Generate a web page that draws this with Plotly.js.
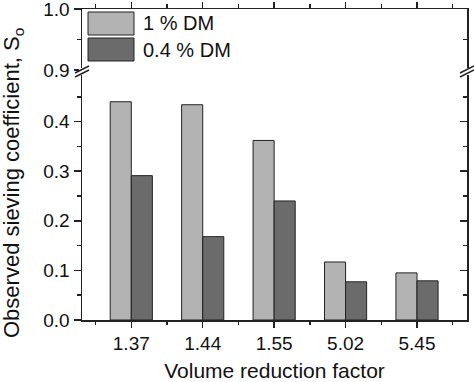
<!DOCTYPE html>
<html>
<head>
<meta charset="utf-8">
<script src="https://cdn.plot.ly/plotly-3.0.1.min.js"></script>
<style>html,body{margin:0;padding:0;background:#fff;}#chart{width:474px;height:382px;}</style>
</head>
<body>
<div id="chart"></div>
<script>
// ---- data ----
const categories = ['1.37', '1.44', '1.55', '5.02', '5.45'];
const dm1 = [0.440, 0.434, 0.362, 0.117, 0.095];
const dm04 = [0.291, 0.168, 0.240, 0.077, 0.079];
const seriesNames = ['1 % DM', '0.4 % DM'];
const seriesColors = ['#b3b3b3', '#6b6b6b'];
const lowerTicks = [0, 0.1, 0.2, 0.3, 0.4];
const lowerMinor = [0.05, 0.15, 0.25, 0.35, 0.45];
const upperTicks = [0.9, 1.0];
const upperMinor = [0.95];
const xTitle = 'Volume reduction factor';
const yTitle = 'Observed sieving coefficient, S<sub>o</sub>';

// ---- geometry ----
const W = 474, H = 382;
const M = {l: 82, r: 7, t: 9, b: 62};
const PW = W - M.l - M.r, PH = H - M.t - M.b;
const px = x => (x - M.l) / PW;          // pixel -> paper x
const py = y => (H - M.b - y) / PH;      // pixel -> paper y
const lowerDomain = [0, py(72)];
const upperDomain = [py(70), 1];
const upperRange = [0.9, 1.0];
const xRange = [-0.69, 4.7];
const idx = categories.map((_, i) => i);
const halfIdx = idx.map(i => i - 0.5).concat([idx.length - 0.5]);

const FONT = 'Liberation Sans, Arial, sans-serif';
const LC = '#222';

const traces = [dm1, dm04].map((vals, k) => ({
  type: 'bar', x: idx, y: vals, name: seriesNames[k],
  marker: {color: seriesColors[k], line: {color: LC, width: 1}},
  xaxis: 'x', yaxis: 'y', showlegend: false, hoverinfo: 'skip'
}));
// empty helper traces so that the upper / mirrored axes get drawn
[['x2', 'y2'], ['x', 'y3'], ['x', 'y4'], ['x', 'y2']].forEach(([xa, ya]) => traces.push({
  type: 'scatter', mode: 'markers', x: [null], y: [null], xaxis: xa, yaxis: ya,
  showlegend: false, hoverinfo: 'skip', marker: {opacity: 0}
}));

const axBase = {showgrid: false, zeroline: false, showline: true, linecolor: LC, linewidth: 1.5,
  tickcolor: LC, tickwidth: 1.5, ticklabeloverflow: 'allow',
  tickfont: {family: FONT, size: 19, color: '#111'}};

const layout = {
  width: W, height: H, margin: M, paper_bgcolor: '#fff', plot_bgcolor: 'rgba(0,0,0,0)',
  barmode: 'group', bargap: 0.41, bargroupgap: 0,
  font: {family: FONT, color: '#111'},
  xaxis: Object.assign({}, axBase, {
    range: xRange, anchor: 'y', tickmode: 'array', tickvals: idx, ticktext: categories,
    ticks: 'outside', ticklen: 6,
    minor: {tickmode: 'array', tickvals: halfIdx, ticks: 'outside', ticklen: 3, tickcolor: LC, tickwidth: 1.5},
    title: {text: xTitle, font: {family: FONT, size: 21, color: '#111'}, standoff: 10}
  }),
  xaxis2: Object.assign({}, axBase, {
    range: xRange, overlaying: 'x', anchor: 'y2', side: 'top', tickmode: 'array', tickvals: idx,
    ticks: 'outside', ticklen: 6, showticklabels: false,
    minor: {tickmode: 'array', tickvals: halfIdx, ticks: 'outside', ticklen: 4, tickcolor: LC, tickwidth: 1.5}
  }),
  yaxis: Object.assign({}, axBase, {
    domain: lowerDomain, range: [0, 0.5], anchor: 'x', tickmode: 'array', tickvals: lowerTicks,
    ticktext: lowerTicks.map(v => v.toFixed(1)), ticks: 'outside', ticklen: 7,
    minor: {tickmode: 'array', tickvals: lowerMinor, ticks: 'outside', ticklen: 4, tickcolor: LC, tickwidth: 1.5}
  }),
  yaxis2: Object.assign({}, axBase, {
    domain: upperDomain, range: upperRange, anchor: 'x', tickmode: 'array', tickvals: upperTicks,
    ticktext: upperTicks.map(v => v.toFixed(1)), ticks: 'outside', ticklen: 7,
    minor: {tickmode: 'array', tickvals: upperMinor, ticks: 'outside', ticklen: 4, tickcolor: LC, tickwidth: 1.5}
  }),
  yaxis3: Object.assign({}, axBase, {
    domain: lowerDomain, range: [0, 0.5], overlaying: 'y', anchor: 'x', side: 'right',
    tickmode: 'array', tickvals: lowerTicks, ticks: 'inside', ticklen: 7, showticklabels: false,
    minor: {tickmode: 'array', tickvals: lowerMinor, ticks: 'inside', ticklen: 4, tickcolor: LC, tickwidth: 1.5}
  }),
  yaxis4: Object.assign({}, axBase, {
    domain: upperDomain, range: upperRange, overlaying: 'y2', anchor: 'x', side: 'right',
    tickmode: 'array', tickvals: upperTicks, ticks: 'inside', ticklen: 7, showticklabels: false,
    minor: {tickmode: 'array', tickvals: upperMinor, ticks: 'inside', ticklen: 4, tickcolor: LC, tickwidth: 1.5}
  }),
  shapes: [],
  annotations: []
};

// axis-break marks (left and right)
[M.l, W - M.r].forEach(ax => {
  layout.shapes.push({type: 'rect', xref: 'paper', yref: 'paper',
    x0: px(ax - 3), x1: px(ax + 3), y0: py(75), y1: py(68), fillcolor: '#fff', line: {width: 0}, layer: 'above'});
  [0, 4].forEach(d => layout.shapes.push({type: 'line', xref: 'paper', yref: 'paper',
    x0: px(ax - 7), y0: py(77 - d), x1: px(ax + 7), y1: py(70 - d), line: {color: LC, width: 1.5}, layer: 'above'}));
});

// legend (drawn manually to match the large swatches)
const legendRows = [{y0: 12, y1: 35}, {y0: 38, y1: 61}];
seriesNames.forEach((name, k) => {
  const r = legendRows[k];
  layout.shapes.push({type: 'rect', xref: 'paper', yref: 'paper',
    x0: px(88), x1: px(134), y0: py(r.y1), y1: py(r.y0),
    fillcolor: seriesColors[k], line: {color: LC, width: 1}});
  layout.annotations.push({xref: 'paper', yref: 'paper', x: px(141), y: py((r.y0 + r.y1) / 2),
    xanchor: 'left', yanchor: 'middle', text: name, showarrow: false,
    font: {family: FONT, size: 20, color: '#111'}});
});

// y-axis title
layout.annotations.push({xref: 'paper', yref: 'paper', x: px(13), y: py(183), xanchor: 'center', yanchor: 'middle',
  textangle: -90, text: yTitle, showarrow: false, font: {family: FONT, size: 22, color: '#111'}});

Plotly.newPlot('chart', traces, layout, {staticPlot: true, displayModeBar: false});
</script>
</body>
</html>
